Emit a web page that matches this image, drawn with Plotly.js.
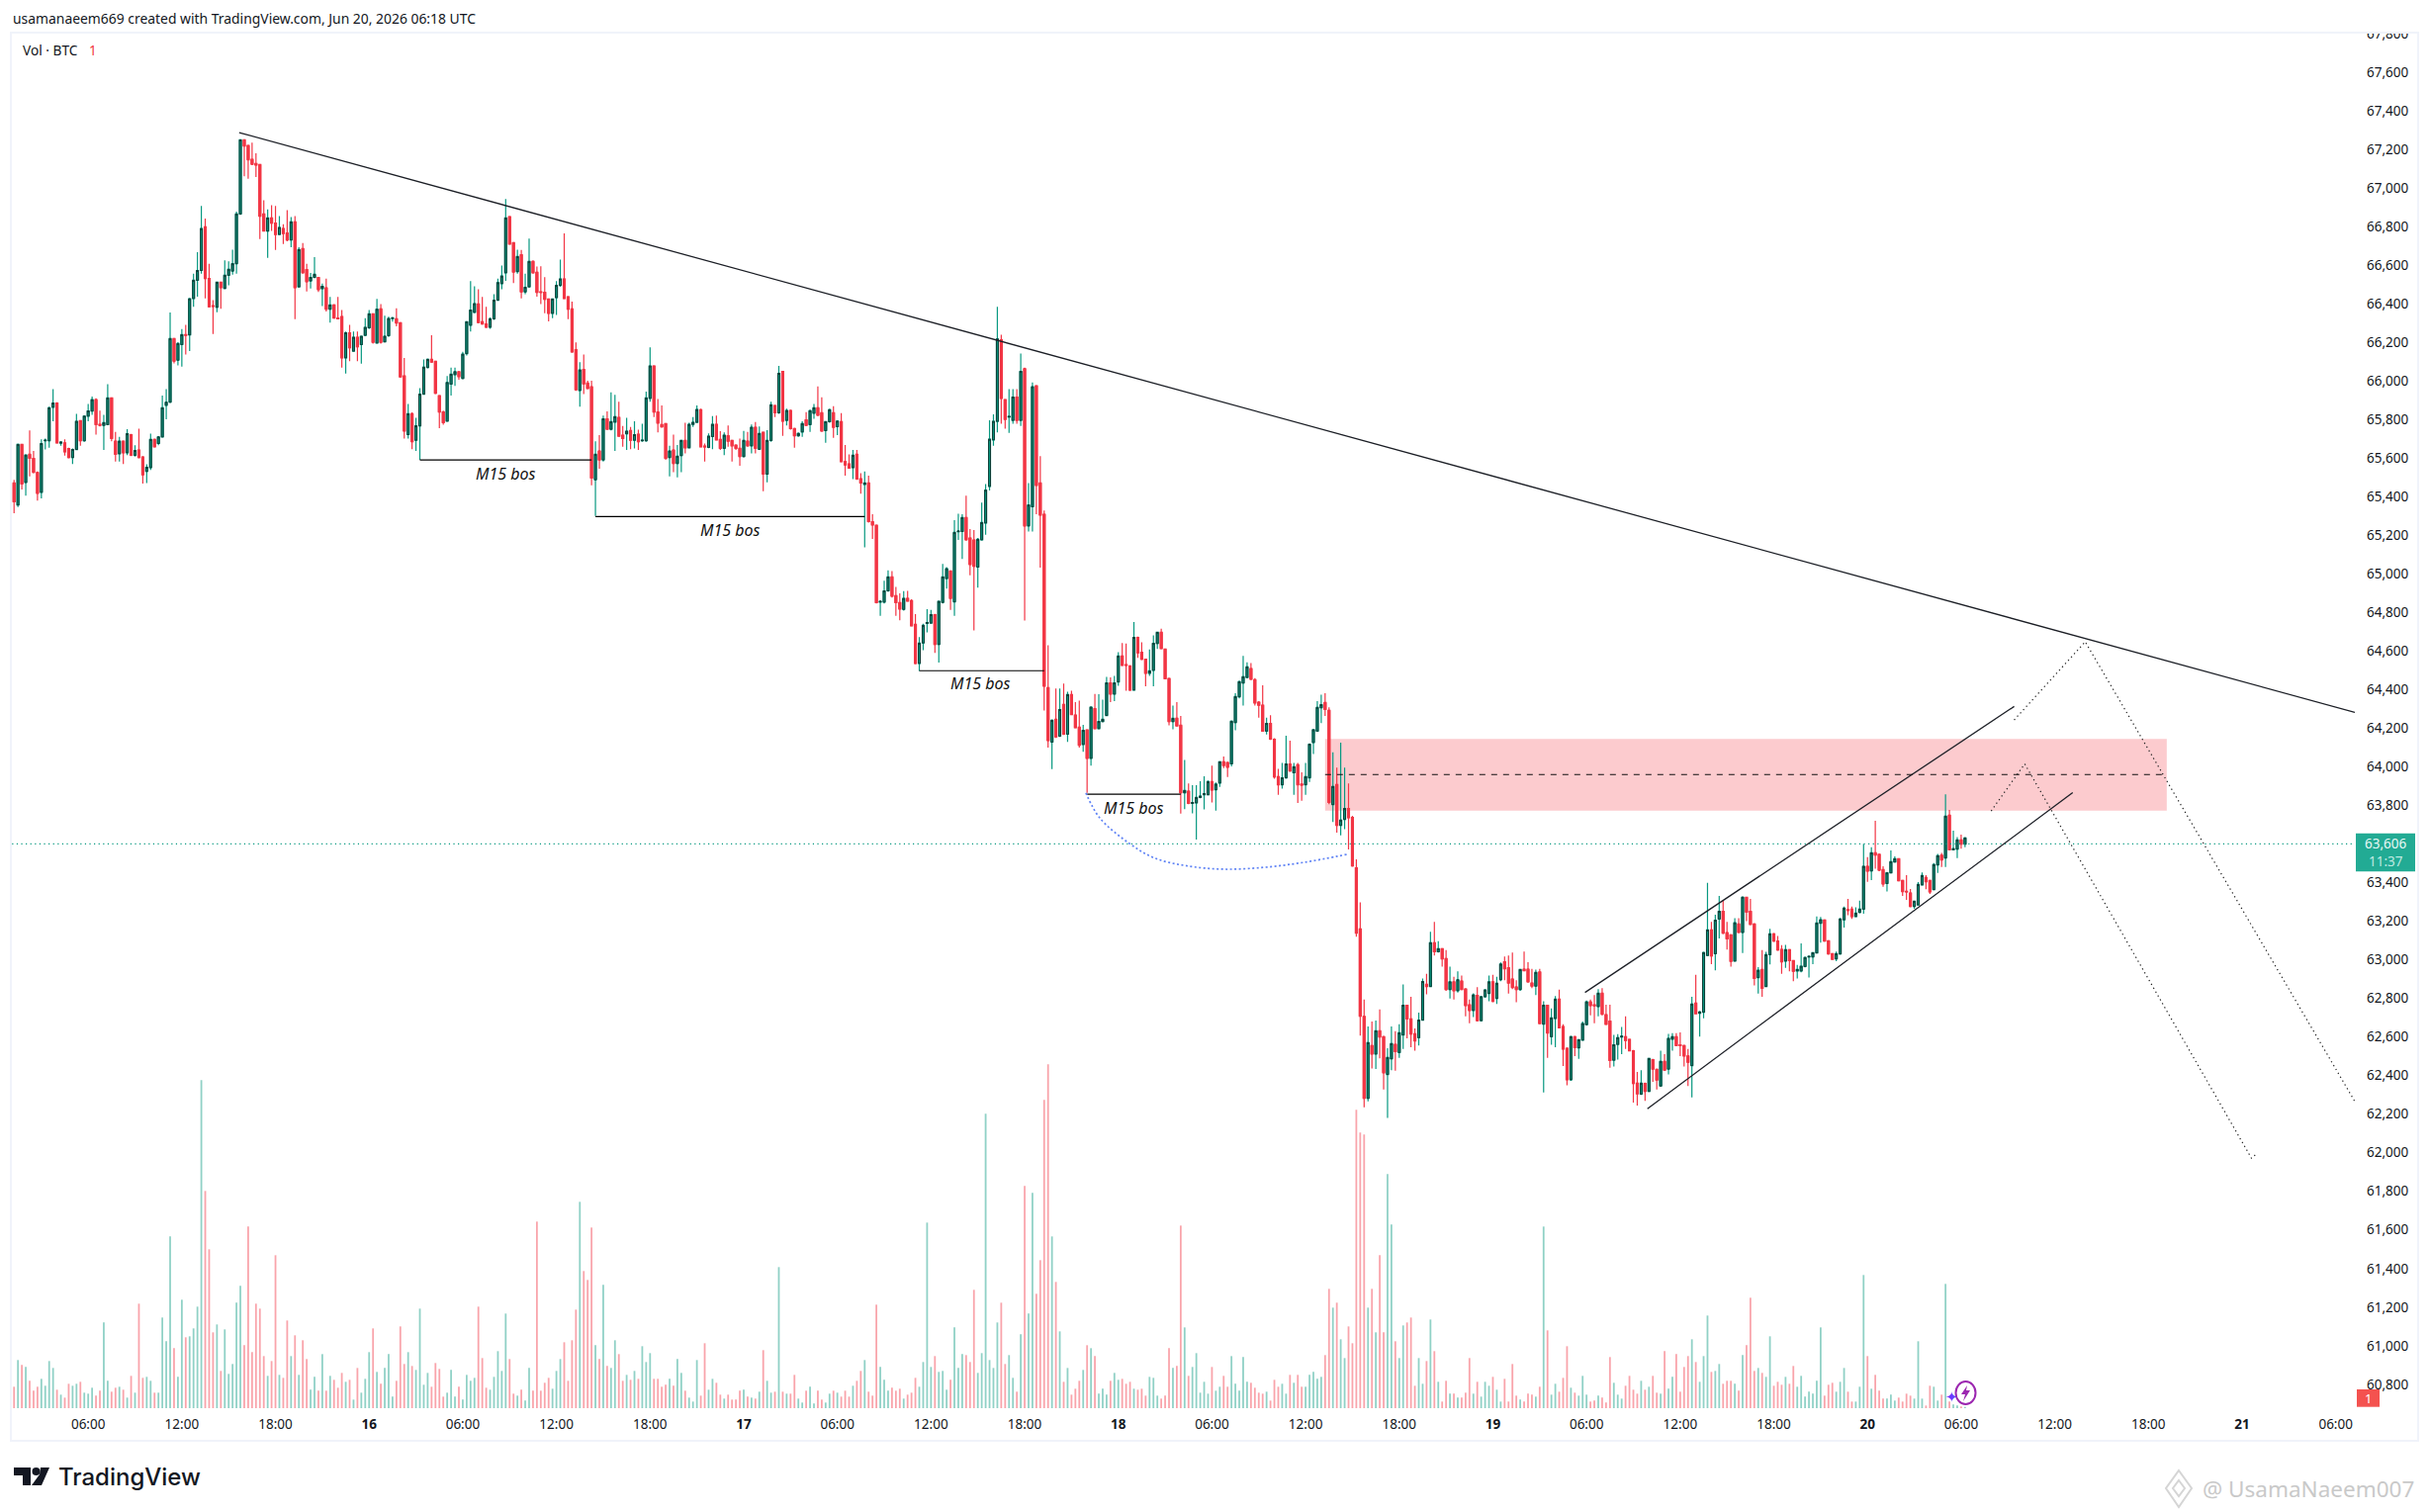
<!DOCTYPE html>
<html><head><meta charset="utf-8">
<script src="https://cdn.plot.ly/plotly-3.0.1.min.js"></script>
<style>html,body{margin:0;padding:0;background:#fff}#c{width:2457px;height:1529px}</style>
</head><body><div id="c"></div>
<script>
const open=[
65472,65358,65672,65475,65621,65600,65527,65424,65691,65691,
65865,65887,65679,65680,65651,65604,65646,65795,65691,65819,
65845,65904,65776,65771,65775,65913,65689,65624,65689,65629,
65723,65616,65643,65607,65532,65552,65698,65677,65711,65875,
65891,66221,66109,66190,66241,66240,66429,66523,66574,66800,
66532,66391,66383,66513,66481,66549,66571,66609,66867,67251,
67222,67150,67128,67123,66867,66778,66846,66820,66761,66791,
66769,66732,66826,66489,66687,66579,66520,66538,66538,66480,
66484,66373,66395,66328,66335,66121,66251,66156,66228,66190,
66238,66277,66349,66198,66375,66204,66236,66325,66323,66303,
66027,65723,65831,65694,65768,65933,66071,66113,66103,65925,
65841,65793,65985,66034,66049,66014,66143,66290,66357,66400,
66308,66297,66280,66323,66420,66506,66562,66853,66718,66568,
66656,66463,66489,66621,66565,66463,66461,66426,66352,66433,
66497,66530,66438,66375,66164,65952,66061,65990,65971,65489,
65638,65592,65805,65751,65788,65812,65720,65727,65744,65694,
65725,65691,65691,65911,66079,65840,65775,65780,65604,65643,
65573,65614,65693,65655,65776,65787,65852,65664,65657,65713,
65776,65698,65652,65717,65693,65669,65652,65609,65689,65665,
65761,65647,65735,65518,65693,65874,65836,66051,65797,65848,
65754,65717,65737,65800,65775,65834,65862,65836,65744,65790,
65836,65764,65790,65583,65571,65552,65621,65494,65465,65472,
65272,65253,64855,64855,64913,64985,64888,64852,64817,64874,
64862,64739,64537,64643,64744,64746,64790,64635,64853,64977,
65016,64856,65220,65221,65293,65187,65177,65036,65178,65265,
65455,65696,65792,66215,65904,65814,65797,65918,65797,66065,
65250,65349,65976,65472,65310,64411,64129,64247,64160,64324,
64170,64375,64269,64206,64117,64192,64045,64303,64199,64235,
64267,64436,64378,64441,64575,64530,64524,64399,64672,64595,
64559,64486,64501,64640,64698,64611,64459,64235,64253,64216,
63866,63875,63811,63814,63842,63856,63856,63924,63882,63917,
64027,64023,64016,64230,64364,64435,64464,64510,64453,64336,
64320,64186,64226,64144,63950,63908,63944,64016,63970,64012,
63911,63908,63944,64127,64186,64307,64334,64294,63805,63909,
63697,63728,63785,63739,63477,63161,62707,62282,62556,62512,
62632,62602,62406,62487,62562,62520,62611,62765,62694,62617,
62597,62688,62873,62862,63089,63042,63058,63007,62846,62886,
62840,62890,62849,62767,62738,62816,62685,62809,62826,62886,
62800,62897,62990,62959,62901,62860,62846,62952,62952,62880,
62864,62937,62667,62765,62602,62696,62796,62654,62542,62379,
62602,62544,62584,62664,62782,62767,62758,62827,62716,62683,
62480,62562,62600,62602,62588,62529,62361,62304,62359,62318,
62483,62432,62346,62474,62434,62589,62602,62560,62556,62502,
62452,62776,62723,62729,63023,63155,63032,63212,63252,63141,
63130,62994,63186,63142,63324,63252,63186,62908,62950,62862,
63027,63135,63098,63054,62994,63053,62996,62943,62943,62966,
63015,63015,63036,63190,63207,63099,63032,63005,63031,63208,
63260,63263,63225,63246,63263,63485,63461,63555,63547,63468,
63396,63451,63507,63524,63412,63355,63347,63277,63285,63389,
63427,63412,63364,63492,63542,63528,63750,63571,63574,63622,
63600];
const high=[
65489,65677,65672,65621,65745,65638,65532,65699,65703,65868,
65959,65891,65689,65699,65655,65651,65831,65795,65822,65882,
65920,65911,65848,65826,65985,65916,65737,65711,65692,65751,
65727,65668,65754,65612,65569,65728,65703,65716,65925,65959,
66356,66224,66202,66270,66292,66432,66557,66669,66908,66843,
66609,66420,66514,66514,66626,66622,66682,66879,67255,67253,
67224,67237,67181,67125,66938,66890,66913,66908,66856,66814,
66887,66851,66856,66694,66716,66609,66561,66643,66540,66506,
66532,66437,66400,66437,66369,66257,66292,66257,66258,66236,
66327,66369,66352,66427,66400,66340,66335,66335,66378,66306,
66120,65882,65839,65810,65964,66113,66118,66238,66104,65925,
65848,66027,66070,66070,66053,66152,66309,66519,66492,66477,
66437,66386,66330,66451,66532,66600,66945,66856,66722,66682,
66680,66557,66740,66626,66595,66596,66540,66429,66429,66519,
66631,66766,66441,66412,66201,66099,66138,66002,66002,65689,
65720,65822,65843,65942,65930,65894,65768,65810,65763,65792,
65749,65780,65946,66176,66082,65908,65874,65783,65665,65723,
65669,65694,65785,65785,65814,65874,65857,65677,65729,65819,
65822,65741,65734,65771,65694,65672,65703,65742,65737,65776,
65788,65766,65737,65746,65894,65877,66079,66053,65857,65852,
65759,65734,65792,65840,65852,65882,65973,65917,65793,65857,
65870,65797,65834,65669,65621,65643,65643,65523,65532,65510,
65310,65255,64860,64965,65019,65016,64934,64900,64912,64913,
64869,64792,64674,64742,64818,64815,64794,64862,65053,65036,
65019,65279,65313,65310,65407,65233,65228,65187,65370,65467,
65797,65828,66386,66241,65908,65959,65959,65959,66144,66070,
65472,65993,65980,65612,65330,64631,64247,64407,64407,64433,
64390,64395,64336,64344,64219,64195,64315,64378,64377,64349,
64467,64464,64472,64595,64643,64640,64527,64751,64676,64647,
64561,64609,64683,64700,64717,64612,64460,64318,64336,64264,
64036,63915,63906,63906,63926,63952,63930,64007,63920,64030,
64054,64027,64241,64382,64448,64576,64543,64539,64461,64342,
64424,64256,64268,64149,63990,64021,64162,64137,64021,64021,
63972,64021,64122,64195,64342,64375,64382,64310,64076,63997,
64126,63997,63915,63747,63521,63298,62794,62655,62681,62685,
62743,62606,62542,62655,62630,62666,62873,62767,62809,62644,
62727,62904,62928,63146,63197,63097,63060,63051,62965,62913,
62941,62919,62853,62794,62827,62858,62813,62849,62919,62923,
62913,62987,63018,63023,63038,62895,62954,63043,62988,62954,
62950,62954,62785,62767,62749,62813,62846,62666,62546,62606,
62606,62589,62681,62789,62794,62818,62849,62853,62767,62767,
62611,62615,62652,62708,62589,62533,62419,62428,62364,62492,
62487,62437,62529,62511,62617,62620,62620,62624,62560,62538,
62809,62923,62736,63042,63399,63197,63234,63331,63307,63197,
63133,63216,63216,63329,63325,63316,63190,62963,63051,63042,
63161,63139,63124,63076,63078,63056,63000,62974,63085,63017,
63020,63041,63225,63222,63208,63102,63036,63043,63217,63277,
63316,63277,63272,63307,63601,63533,63584,63721,63550,63485,
63456,63567,63536,63528,63415,63439,63367,63307,63403,63453,
63439,63415,63502,63550,63554,63858,63777,63670,63636,63649,
63636];
const low=[
65315,65348,65438,65407,65506,65523,65381,65392,65646,65655,
65792,65677,65665,65614,65600,65571,65643,65665,65686,65792,
65826,65723,65766,65643,65775,65689,65583,65583,65571,65617,
65612,65609,65600,65469,65472,65540,65657,65668,65708,65802,
65887,66092,66082,66075,66138,66156,66386,66438,66557,66429,
66383,66245,66357,66376,66477,66497,66552,66557,66863,67063,
67049,67120,67058,66737,66776,66639,66779,66680,66759,66711,
66725,66694,66321,66485,66557,66465,66480,66535,66463,66390,
66361,66304,66324,66321,66070,66039,66104,66153,66104,66091,
66233,66270,66195,66195,66195,66202,66229,66309,66284,66022,
65703,65703,65648,65638,65592,65932,66067,66096,65933,65757,
65774,65792,65925,65976,66007,66010,66133,66258,66352,66304,
66293,66275,66272,66318,66417,66477,66520,66708,66509,66557,
66429,66451,66485,66557,66438,66400,66352,66310,66327,66344,
66489,66426,66321,66147,65950,65868,65933,65959,65460,65301,
65546,65583,65747,65745,65638,65715,65660,65643,65648,65651,
65643,65686,65686,65894,65814,65734,65759,65592,65506,65528,
65501,65528,65626,65652,65763,65783,65657,65583,65652,65648,
65693,65643,65617,65660,65583,65643,65561,65605,65660,65626,
65626,65643,65429,65476,65686,65814,65831,65717,65771,65749,
65655,65711,65711,65768,65737,65805,65819,65737,65681,65785,
65706,65720,65580,65510,65546,65493,65489,65417,65139,65267,
65182,64848,64783,64848,64908,64879,64783,64760,64811,64857,
64729,64532,64498,64606,64698,64746,64592,64541,64848,64925,
64814,64783,65177,65079,65173,64994,64708,64930,65173,65204,
65433,65665,65734,65780,65754,65732,65780,65780,65768,64759,
65221,65221,65310,65033,64293,64101,63989,64151,64156,64166,
64130,64269,64201,64100,64079,63866,64007,64195,64195,64233,
64264,64336,64341,64421,64524,64395,64394,64395,64566,64554,
64418,64472,64418,64612,64611,64455,64216,64195,64209,63758,
63782,63807,63759,63624,63838,63780,63853,63816,63774,63897,
63994,63948,64003,64190,64356,64318,64461,64451,64318,64256,
64182,64168,64140,63939,63856,63888,63939,63975,63856,63814,
63825,63856,63922,64067,64182,64228,64265,63807,63715,63660,
63646,63677,63573,63483,63120,62608,62236,62267,62437,62434,
62489,62328,62181,62428,62425,62492,62538,62593,62547,62529,
62556,62685,62822,62858,63023,63038,62965,62840,62800,62794,
62831,62844,62708,62672,62703,62681,62681,62804,62785,62780,
62772,62890,62895,62825,62849,62780,62840,62941,62882,62853,
62818,62667,62313,62492,62560,62547,62644,62450,62350,62373,
62501,62487,62580,62661,62712,62672,62707,62712,62663,62441,
62447,62483,62511,62538,62525,62260,62245,62300,62269,62315,
62368,62328,62342,62425,62406,62529,62553,62501,62447,62346,
62287,62718,62602,62697,63020,62978,62946,63111,63133,63054,
62965,62992,63139,63036,63201,63183,62868,62825,62809,62858,
62977,63093,63047,62928,62959,62941,62890,62904,62935,62961,
62908,62978,63034,63089,63094,63027,63000,62993,63027,63167,
63231,63212,63222,63242,63239,63405,63413,63473,63460,63379,
63354,63448,63504,63407,63331,63311,63273,63265,63282,63388,
63366,63342,63362,63451,63482,63482,63567,63567,63528,63576,
63584];
const close=[
65375,65672,65467,65617,65600,65527,65419,65677,65694,65862,
65887,65680,65684,65634,65604,65646,65792,65691,65819,65846,
65904,65775,65771,65785,65913,65703,65621,65689,65629,65728,
65616,65641,65604,65515,65554,65698,65660,65711,65862,65891,
66221,66104,66195,66241,66238,66427,66523,66574,66791,66532,
66386,66388,66513,66485,66549,66580,66609,66867,67251,67219,
67148,67125,67120,66855,66779,66846,66819,66761,66797,66766,
66732,66826,66485,66682,66562,66516,66538,66554,66475,66492,
66373,66395,66327,66323,66121,66251,66173,66228,66178,66233,
66279,66349,66202,66373,66202,66233,66325,66328,66301,66022,
65742,65831,65686,65769,65933,66073,66113,66099,65937,65840,
65785,65993,66036,66049,66024,66140,66308,66369,66402,66304,
66296,66280,66323,66420,66511,66545,66846,66711,66566,66646,
66463,66487,66621,66562,66460,66460,66424,66352,66426,66497,
66530,66429,66373,66152,65956,66058,65986,65962,65498,65621,
65592,65805,65751,65790,65816,65715,65703,65741,65694,65723,
65686,65694,65913,66079,65840,65783,65763,65600,65638,65573,
65611,65693,65655,65776,65787,65853,65660,65659,65715,65776,
65696,65652,65720,65689,65665,65652,65609,65693,65665,65761,
65652,65729,65518,65693,65877,65836,66041,65793,65848,65754,
65717,65729,65780,65771,65847,65862,65823,65742,65790,65852,
65761,65793,65583,65566,65549,65616,65493,65472,65472,65272,
65255,64852,64859,64913,64985,64886,64852,64819,64874,64860,
64732,64537,64642,64734,64749,64790,64635,64859,64985,65028,
64874,65216,65223,65293,65178,65050,65040,65180,65267,65435,
65699,65792,66219,65911,65802,65817,65918,65797,66051,65250,
65358,65971,65460,65306,64419,64137,64242,64156,64298,64170,
64375,64272,64204,64113,64190,64045,64310,64199,64236,64247,
64436,64378,64436,64575,64527,64527,64399,64672,64592,64558,
64486,64498,64641,64698,64614,64457,64235,64252,64213,63866,
63878,63811,63816,63842,63849,63862,63924,63880,63911,64027,
64008,63999,64237,64365,64442,64468,64519,64455,64332,64320,
64186,64226,64144,63948,63908,63944,64016,63979,64001,63908,
63906,63950,64118,64193,64309,64323,64298,63816,63899,63697,
63725,63785,63737,63487,63139,62708,62282,62571,62512,62632,
62600,62415,62494,62566,62524,62622,62765,62694,62615,62580,
62688,62888,62862,63089,63042,63058,63005,62846,62886,62840,
62897,62846,62763,62738,62818,62685,62809,62844,62886,62785,
62879,62978,62954,62880,62857,62846,62950,62944,62886,62864,
62935,62670,62765,62621,62699,62796,62648,62538,62379,62602,
62545,62586,62670,62782,62763,62762,62827,62718,62666,62478,
62560,62597,62604,62582,62529,62359,62306,62361,62318,62489,
62434,62377,62474,62428,62593,62602,62556,62556,62502,62469,
62771,62721,62730,63038,63155,63020,63206,63252,63139,63109,
62992,63192,63142,63325,63248,63184,62904,62946,62853,63027,
63135,63097,63051,62990,63053,62996,62941,62950,62967,63012,
63018,63037,63191,63208,63097,63031,63003,63032,63212,63268,
63256,63225,63242,63263,63485,63460,63555,63543,63465,63393,
63451,63509,63524,63410,63354,63352,63277,63304,63391,63437,
63405,63352,63494,63540,63518,63745,63571,63576,63622,63600,
63632];
const volume=[
65,146,131,125,83,53,65,89,68,143,
122,56,41,32,74,68,74,80,47,44,
62,38,53,260,83,50,62,65,56,32,
98,47,317,92,95,83,47,47,275,203,
521,182,95,329,215,218,242,308,995,659,
482,230,254,113,239,104,134,320,371,191,
551,170,317,302,158,98,143,464,101,92,
266,158,221,101,206,149,56,95,53,164,
53,98,86,62,107,80,86,26,122,47,
89,170,242,110,74,122,164,35,83,248,
134,170,128,116,302,71,107,65,137,119,
35,47,116,35,65,26,101,83,92,308,
152,62,56,95,173,113,287,149,44,38,
56,23,122,53,566,53,77,92,59,113,
149,200,83,206,299,626,416,389,548,191,
149,374,128,122,206,164,83,101,86,113,
89,188,140,167,89,89,65,71,89,68,
149,107,53,32,
20,146,38,197,56,89,77,41,29,41,
26,26,53,56,35,32,29,50,176,83,
47,50,428,50,44,44,101,29,17,53,
65,14,53,26,17,44,53,47,35,53,
35,68,83,113,146,50,38,314,125,86,
53,62,53,59,29,41,47,92,65,140,
563,125,158,110,113,56,86,245,122,164,
161,140,359,107,167,893,146,122,260,320,
134,161,92,50,224,674,287,653,347,449,
935,1043,521,383,233,80,122,41,59,83,
116,191,182,158,44,59,41,83,107,86,
89,74,80,59,56,59,38,95,92,38,
29,38,182,122,128,554,245,98,125,167,
47,80,44,125,53,65,98,65,158,74,
53,155,80,77,62,47,44,50,23,86,
65,74,44,101,77,101,65,65,101,110,
89,95,161,362,305,320,209,152,248,197,
905,836,830,305,362,230,464,230,
710,557,203,152,251,260,275,68,152,74,
143,269,173,80,20,83,44,44,32,32,
47,152,44,80,35,80,68,95,56,20,
89,20,134,38,26,20,44,41,35,65,
551,236,41,74,50,92,188,62,47,38,
98,41,20,23,38,32,17,155,77,41,
29,68,98,56,44,83,56,65,98,47,
44,173,59,95,164,50,125,158,209,140,
80,158,281,110,113,134,74,83,83,74,
53,161,191,335,113,122,107,95,218,68,
80,71,95,74,128,65,98,35,50,44,
83,245,38,71,77,50,80,122,50,20,
20,65,404,158,59,101,53,29,29,41,
23,32,20,44,38,29,203,29,8,68,
65,23,41,377,20,11,8,5,4];

const priceTicks=[60800,61000,61200,61400,61600,61800,62000,62200,62400,62600,62800,63000,63200,63400,63600,63800,64000,64200,64400,64600,64800,65000,65200,65400,65600,65800,66000,66200,66400,66600,66800,67000,67200,67400,67600,67800];
const timeTicks=['2026-06-15 06:00','2026-06-15 12:00','2026-06-15 18:00','2026-06-16 00:00','2026-06-16 06:00','2026-06-16 12:00','2026-06-16 18:00','2026-06-17 00:00','2026-06-17 06:00','2026-06-17 12:00','2026-06-17 18:00','2026-06-18 00:00','2026-06-18 06:00','2026-06-18 12:00','2026-06-18 18:00','2026-06-19 00:00','2026-06-19 06:00','2026-06-19 12:00','2026-06-19 18:00','2026-06-20 00:00','2026-06-20 06:00','2026-06-20 12:00','2026-06-20 18:00','2026-06-21 00:00','2026-06-21 06:00'];
const timeLabels=['06:00','12:00','18:00','<b>16</b>','06:00','12:00','18:00','<b>17</b>','06:00','12:00','18:00','<b>18</b>','06:00','12:00','18:00','<b>19</b>','06:00','12:00','18:00','<b>20</b>','06:00','12:00','18:00','<b>21</b>','06:00'];

const lastPrice=63601;
const trendBars=[57.7,599.9], trendPrices=[67289,64283];
const bosBars=[[104,148],[149,218],[232,264],[275,299]], bosPrices=[65592,65298,64499,63859];
const bosLabelBars=[126,183.6,247.8,286.9], bosLabelPrices=[65520,65228,64433,63786];
const curveBars=[274.7,278.2,285.8,292.4,301,310.2,320.6,330.7,341.6], curvePrices=[63865,63737,63604,63527,63486,63470,63480,63506,63547];
const zoneBars=[336,551.7], zonePrices=[63774,64145], zoneMid=63961;
const channelUpBars=[402.6,512.6], channelUpPrices=[62831,64314];
const channelLoBars=[418.6,527.6], channelLoPrices=[62228,63867];
const pathABars=[512.6,530.8,599.9], pathAPrices=[64244,64649,62266];
const pathBBars=[506.7,515.3,573.4,574.9], pathBPrices=[63772,64016,61972,61997];

const PW=2369,PH=1391,PL=12,PT=33;
const px=x=>(x-PL)/PW, py=y=>1-(y-PT)/PH;
const bar=i=>Date.UTC(2026,5,15,1,15)+i*900000;
const bars=a=>a.map(bar);
const idx=open.map((_,i)=>i), xs=idx.map(bar);
const UP='#089981',DN='#f23645',BORDER='#0f3d36';
const INK='#131722';
const fontName='"Noto Sans", sans-serif';

function seg(x,y,color,width,dash,shape){return {type:'scatter',mode:'lines',x:x,y:y,xaxis:'x',yaxis:'y',hoverinfo:'skip',showlegend:false,line:{color:color,width:width,dash:dash||'solid',shape:shape||'linear'}};}

const traces=[
 {type:'bar',x:xs,y:volume,yaxis:'y2',width:410000,hoverinfo:'skip',showlegend:false,
  marker:{color:idx.map(i=>close[i]>=open[i]?'rgba(8,153,129,0.45)':'rgba(242,54,69,0.45)'),line:{width:0}}},
 {type:'candlestick',x:xs,open:open,high:high,low:low,close:close,hoverinfo:'skip',showlegend:false,whiskerwidth:0,
  increasing:{line:{color:UP,width:1.2},fillcolor:UP},decreasing:{line:{color:DN,width:1.2},fillcolor:DN}},
 {type:'candlestick',x:xs,open:open,close:close,
  high:idx.map(i=>Math.max(open[i],close[i])),low:idx.map(i=>Math.min(open[i],close[i])),
  hoverinfo:'skip',showlegend:false,whiskerwidth:0,
  increasing:{line:{color:BORDER,width:1},fillcolor:UP},decreasing:{line:{color:DN,width:1},fillcolor:DN}},
 seg([xs[0]-450000,bar(599.9)],[lastPrice,lastPrice],'#089981',1.2,'1.2px,3.4px'),
 seg(bars(trendBars),trendPrices,'#1c1f26',1.3),
 seg(bars(bosBars[0]),[bosPrices[0],bosPrices[0]],'#000000',1.2),
 seg(bars(bosBars[1]),[bosPrices[1],bosPrices[1]],'#000000',1.2),
 seg(bars(bosBars[2]),[bosPrices[2],bosPrices[2]],'#000000',1.2),
 seg(bars(bosBars[3]),[bosPrices[3],bosPrices[3]],'#000000',1.2),
 seg(bars(curveBars),curvePrices,'#5f83f5',1.7,'2px,2.5px','spline'),
 seg(bars(channelUpBars),channelUpPrices,'#1c1f26',1.3),
 seg(bars(channelLoBars),channelLoPrices,'#1c1f26',1.3),
 seg(bars(pathABars),pathAPrices,'#222222',1.2,'1.3px,3.2px'),
 seg(bars(pathBBars),pathBPrices,'#222222',1.2,'1.3px,3.2px')
];

const frame='#f0f3fa';
const shapes=[
 {type:'rect',layer:'below',xref:'x',yref:'y',x0:bar(zoneBars[0]),x1:bar(zoneBars[1]),y0:zonePrices[0],y1:zonePrices[1],fillcolor:'#fccbce',line:{width:0}},
 {type:'line',layer:'above',xref:'x',yref:'y',x0:bar(zoneBars[0]),x1:bar(zoneBars[1]),y0:zoneMid,y1:zoneMid,line:{color:'#111',width:1.1,dash:'6px,6px'}},
 {type:'rect',layer:'above',xref:'paper',yref:'paper',x0:px(2382),x1:px(2445),y0:py(0),y1:py(33),fillcolor:'#fff',line:{width:0}},
 {type:'line',layer:'above',xref:'paper',yref:'paper',x0:px(10),x1:px(2446),y0:py(33),y1:py(33),line:{color:frame,width:2}},
 {type:'line',layer:'above',xref:'paper',yref:'paper',x0:px(10),x1:px(2446),y0:py(1457),y1:py(1457),line:{color:frame,width:2}},
 {type:'line',layer:'above',xref:'paper',yref:'paper',x0:px(11),x1:px(11),y0:py(33),y1:py(1457),line:{color:frame,width:2}},
 {type:'line',layer:'above',xref:'paper',yref:'paper',x0:px(2445),x1:px(2445),y0:py(33),y1:py(1457),line:{color:frame,width:2}},
 {type:'rect',layer:'above',xref:'paper',yref:'paper',x0:px(2382),x1:px(2442),y0:py(881.3),y1:py(842.7),fillcolor:'#22ab94',line:{width:0}},
 {type:'rect',layer:'above',xref:'paper',yref:'paper',x0:px(2383),x1:px(2406),y0:py(1422.7),y1:py(1405),fillcolor:'#f4524f',line:{width:0}},
 {type:'circle',layer:'above',xref:'paper',yref:'paper',x0:px(1977.5),x1:px(1997.5),y0:py(1420),y1:py(1397),fillcolor:'rgba(255,255,255,0.9)',line:{color:'#9c27b0',width:2}},
 {type:'path',layer:'above',xref:'paper',yref:'paper',path:pth([[1989,1401],[1983,1410],[1987,1410],[1985,1417],[1992,1406],[1988,1406]],1),fillcolor:'#9c27b0',line:{width:0}},
 {type:'path',layer:'above',xref:'paper',yref:'paper',path:pth([[14,1484],[31,1484],[31,1502],[23,1502],[23,1492],[14,1492]],1),fillcolor:INK,line:{width:0}},
 {type:'circle',layer:'above',xref:'paper',yref:'paper',x0:px(32.5),x1:px(40.5),y0:py(1492),y1:py(1484),fillcolor:INK,line:{width:0}},
 {type:'path',layer:'above',xref:'paper',yref:'paper',path:pth([[50,1484],[42,1502],[32,1502],[40,1491],[41,1484]],1),fillcolor:INK,line:{width:0}},
 {type:'path',layer:'above',xref:'paper',yref:'paper',path:pth([[2203,1487],[2216,1505],[2203,1524],[2190,1505]],1),fillcolor:'rgba(0,0,0,0)',line:{color:'#d5d5d5',width:2}},
 {type:'path',layer:'above',xref:'paper',yref:'paper',path:pth([[2203,1497],[2209,1505],[2203,1513],[2197,1505]],1),fillcolor:'rgba(0,0,0,0)',line:{color:'#d5d5d5',width:2}}
];
function pth(p,close){return p.map((q,i)=>(i?'L':'M')+px(q[0])+','+py(q[1])).join(' ')+(close?' Z':'');}

function note(text,x,y,size,color,anchor,extra){return Object.assign({text:text,xref:'paper',yref:'paper',x:px(x),y:py(y),xanchor:anchor||'left',yanchor:'middle',showarrow:false,font:{family:fontName,size:size,color:color||INK},borderpad:0},extra||{});}
const annotations=[
 note('usamanaeem669 created with TradingView.com, Jun 20, 2026 06:18 UTC',12,18,13.9,INK),
 note('Vol · BTC',22,51,13.7,INK),
 note('1',89,51,13.5,'#f23645'),
 note('TradingView',58,1493,24,INK,'left',{font:{family:'Inter, sans-serif',size:24,color:INK,weight:500}}),
 note('@ UsamaNaeem007',2226,1505,22.5,'#c9c9c9'),
 note('63,606',2412,853,13.5,'#e8f7f4','center'),
 note('11:37',2412,871,13.5,'#bfe9e1','center'),
 note('1',2394.5,1414,13,'#ffffff','center'),
 note('✦',1973,1412.5,15,'#6a3bff','center',{font:{family:'"DejaVu Sans"',size:15,color:'#6a3bff'}})
].concat(bosLabelBars.map((b,i)=>({text:'M15 bos',xref:'x',yref:'y',x:bar(b),y:bosLabelPrices[i],showarrow:false,xanchor:'center',yanchor:'middle',font:{family:fontName,size:16,color:'#111',style:'italic'}})));

const layout={
 width:2457,height:1529,autosize:false,paper_bgcolor:'#fff',plot_bgcolor:'#fff',showlegend:false,
 margin:{l:PL,r:2457-PL-PW,t:PT,b:1529-PT-PH,pad:0},
 xaxis:{type:'date',range:[bar(-0.56),bar(599.9)],rangeslider:{visible:false},showgrid:false,zeroline:false,showline:false,
  tickmode:'array',tickvals:timeTicks,ticktext:timeLabels,ticks:'',tickangle:0,ticklabelstandoff:6,tickfont:{family:fontName,size:13.5,color:INK},automargin:false,fixedrange:true},
 yaxis:{side:'right',range:[60676,67807],showgrid:false,zeroline:false,showline:false,tickmode:'array',tickvals:priceTicks,
  ticktext:priceTicks.map(v=>String(v).replace(/(\d\d)(\d\d\d)$/,'$1,$2')),ticks:'',ticklabelstandoff:11,tickfont:{family:fontName,size:13.5,color:INK},automargin:false,fixedrange:true},
 yaxis2:{overlaying:'y',side:'left',range:[0,4173],visible:false,fixedrange:true},
 shapes:shapes,annotations:annotations,hovermode:false
};
Plotly.newPlot('c',traces,layout,{displayModeBar:false,staticPlot:true});
</script></body></html>
